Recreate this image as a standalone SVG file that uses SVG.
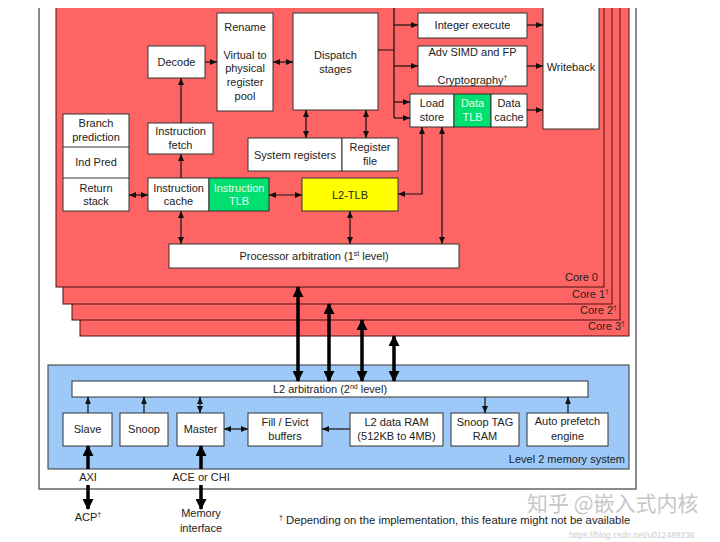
<svg xmlns="http://www.w3.org/2000/svg" width="720" height="542" viewBox="0 0 720 542">
<defs>
<style>
text{font-family:"Liberation Sans",Arial,sans-serif;font-size:11px;fill:#222;text-anchor:middle}
.core{fill:#ff6464;stroke:#4a1010;stroke-width:1}
.box{fill:#fff;stroke:#333;stroke-width:1}
.grn{fill:#00e070;stroke:#333;stroke-width:1}
.ylw{fill:#ffff00;stroke:#333;stroke-width:1}
.gtx{fill:#e8fff0}
.c{fill:none;stroke:#111;stroke-width:1.2}
.a{marker-end:url(#ah)}
.b{marker-start:url(#ah);marker-end:url(#ah)}
.t{fill:none;stroke:#000;stroke-width:3.5}
.ta{marker-end:url(#th)}
.tb{marker-start:url(#th);marker-end:url(#th)}
.r{text-anchor:end}
.sup{font-size:7px}
</style>
<marker id="ah" markerUnits="userSpaceOnUse" markerWidth="7" markerHeight="6" refX="7" refY="3" orient="auto-start-reverse"><path d="M0,0 L7,3 L0,6 z" fill="#111"/></marker>
<marker id="th" markerUnits="userSpaceOnUse" markerWidth="11" markerHeight="11" refX="10" refY="5.5" orient="auto-start-reverse"><path d="M0,0 L11,5.5 L0,11 z" fill="#000"/></marker>
</defs>
<rect width="720" height="542" fill="#fff"/>
<rect id="outer" x="39" y="-10" width="597" height="499" fill="none" stroke="#666" stroke-width="1.5"/>
<g id="core3"><rect class="core" x="80" y="-10" width="549" height="346"/><text class="r" x="625" y="330">Core 3<tspan class="sup" dy="-4">†</tspan></text></g>
<g id="core2"><rect class="core" x="72" y="-10" width="548" height="330"/><text class="r" x="617" y="314">Core 2<tspan class="sup" dy="-4">†</tspan></text></g>
<g id="core1"><rect class="core" x="63" y="-10" width="549" height="314"/><text class="r" x="609" y="298">Core 1<tspan class="sup" dy="-4">†</tspan></text></g>
<g id="core0"><rect class="core" x="56" y="-10" width="548" height="297"/><text class="r" x="598" y="281">Core 0</text></g>

<g id="writeback"><rect class="box" x="543" y="-10" width="56" height="139"/><text x="571" y="71">Writeback</text></g>
<g id="dispatch"><rect class="box" x="293" y="13" width="85" height="97"/><text x="335.5" y="59">Dispatch</text><text x="335.5" y="73">stages</text></g>
<g id="rename"><rect class="box" x="217" y="13" width="56" height="98"/><text x="245" y="31">Rename</text><text x="245" y="59">Virtual to</text><text x="245" y="72">physical</text><text x="245" y="86">register</text><text x="245" y="100">pool</text></g>
<g id="decode"><rect class="box" x="148" y="46" width="57" height="32"/><text x="176.5" y="66">Decode</text></g>
<g id="fetch"><rect class="box" x="148" y="123" width="65" height="31"/><text x="180.5" y="135">Instruction</text><text x="180.5" y="149">fetch</text></g>
<g id="branch"><rect class="box" x="63" y="114" width="66" height="97"/><line x1="63" y1="147" x2="129" y2="147" stroke="#333"/><line x1="63" y1="178" x2="129" y2="178" stroke="#333"/><text x="96" y="127">Branch</text><text x="96" y="141">prediction</text><text x="96" y="166">Ind Pred</text><text x="96" y="192">Return</text><text x="96" y="205">stack</text></g>
<g id="icache"><rect class="box" x="148" y="178" width="61" height="33"/><text x="178.5" y="192">Instruction</text><text x="178.5" y="205">cache</text></g>
<g id="itlb"><rect class="grn" x="209" y="178" width="60" height="33"/><text class="gtx" x="239" y="192">Instruction</text><text class="gtx" x="239" y="205">TLB</text></g>
<g id="l2tlb"><rect class="ylw" x="302" y="178" width="96" height="33"/><text x="350" y="199">L2-TLB</text></g>
<g id="sysreg"><rect class="box" x="248" y="138" width="94" height="33"/><text x="295" y="159">System registers</text></g>
<g id="regfile"><rect class="box" x="342" y="138" width="56" height="33"/><text x="370" y="151">Register</text><text x="370" y="165">file</text></g>
<g id="procarb"><rect class="box" x="169" y="244" width="290" height="24"/><text x="314" y="260">Processor arbitration (1<tspan class="sup" dy="-4">st</tspan><tspan dy="4"> level)</tspan></text></g>
<g id="intexec"><rect class="box" x="418" y="13" width="109" height="25"/><text x="472.5" y="29">Integer execute</text></g>
<g id="simd"><rect class="box" x="418" y="46" width="109" height="40"/><text x="472.5" y="56">Adv SIMD and FP</text><text x="472.5" y="84">Cryptography<tspan class="sup" dy="-4">†</tspan></text></g>
<g id="loadstore"><rect class="box" x="410" y="94" width="44" height="33"/><text x="432" y="107">Load</text><text x="432" y="121">store</text></g>
<g id="dtlb"><rect class="grn" x="454" y="94" width="37" height="33"/><text class="gtx" x="472.5" y="107">Data</text><text class="gtx" x="472.5" y="121">TLB</text></g>
<g id="dcache"><rect class="box" x="491" y="94" width="36" height="33"/><text x="509" y="107">Data</text><text x="509" y="121">cache</text></g>

<g id="l2sys"><rect x="48" y="365" width="581" height="104" fill="#9cc9f7" stroke="#333"/><text class="r" x="625" y="463">Level 2 memory system</text></g>
<g id="l2arb"><rect class="box" x="72" y="381" width="516" height="16"/><text x="330" y="393">L2 arbitration (2<tspan class="sup" dy="-4">nd</tspan><tspan dy="4"> level)</tspan></text></g>
<g id="slave"><rect class="box" x="63" y="413" width="49" height="33"/><text x="87.5" y="433">Slave</text></g>
<g id="snoop"><rect class="box" x="120" y="413" width="48" height="33"/><text x="144" y="433">Snoop</text></g>
<g id="master"><rect class="box" x="177" y="413" width="47" height="33"/><text x="200.5" y="433">Master</text></g>
<g id="fill"><rect class="box" x="248" y="413" width="74" height="33"/><text x="285" y="426">Fill / Evict</text><text x="285" y="440">buffers</text></g>
<g id="l2ram"><rect class="box" x="350" y="413" width="93" height="33"/><text x="396.5" y="426">L2 data RAM</text><text x="396.5" y="440">(512KB to 4MB)</text></g>
<g id="snooptag"><rect class="box" x="451" y="413" width="68" height="33"/><text x="485" y="426">Snoop TAG</text><text x="485" y="440">RAM</text></g>
<g id="prefetch"><rect class="box" x="527" y="413" width="81" height="33"/><text x="567.5" y="425">Auto prefetch</text><text x="567.5" y="440">engine</text></g>

<g id="connectors">
<path class="c a" d="M205,62 H217"/>
<path class="c b" d="M273,62 H293"/>
<path class="c a" d="M181,123 V78"/>
<path class="c a" d="M181,178 V154"/>
<path class="c b" d="M129,195 H148"/>
<path class="c b" d="M269,195 H302"/>
<path class="c b" d="M181,211 V244"/>
<path class="c b" d="M350,211 V244"/>
<path class="c b" d="M306,110 V138"/>
<path class="c b" d="M366,110 V138"/>
<path class="c b" d="M422,127 V194 H398"/>
<path class="c b" d="M442,127 V244"/>
<path class="c" d="M378,50 H394 M394,-10 V118"/>
<path class="c a" d="M394,25 H418"/>
<path class="c a" d="M394,66 H418"/>
<path class="c a" d="M394,102 H410"/>
<path class="c a" d="M394,118 H410"/>
<path class="c a" d="M527,25 H543"/>
<path class="c a" d="M527,66 H543"/>
<path class="c a" d="M527,110 H543"/>
<path class="t tb" d="M298,287 V381"/>
<path class="t tb" d="M329,304 V381"/>
<path class="t tb" d="M362,320 V381"/>
<path class="t tb" d="M394,336 V381"/>
<path class="c a" d="M88,413 V397"/>
<path class="c a" d="M144,413 V397"/>
<path class="c b" d="M200,397 V413"/>
<path class="c b" d="M224,429 H248"/>
<path class="c a" d="M350,429 H322"/>
<path class="c a" d="M485,397 V413"/>
<path class="c a" d="M568,413 V397"/>
<path class="t ta" d="M88,469 V446"/>
<path class="t ta" d="M88,485 V509"/>
<path class="t ta" d="M201,469 V446"/>
<path class="t ta" d="M201,485 V509"/>
</g>
<rect x="0" y="0" width="720" height="8" fill="#fff"/>
<text x="88" y="481">AXI</text>
<text x="88" y="521">ACP<tspan class="sup" dy="-4">†</tspan></text>
<text x="201" y="481">ACE or CHI</text>
<text x="201" y="517">Memory</text>
<text x="201" y="532">interface</text>
<text x="279" y="524" style="text-anchor:start;font-size:11.3px"><tspan class="sup" dy="-4">†</tspan><tspan dy="4"> Depending on the implementation, this feature might not be available</tspan></text>
<text x="527" y="511" style="text-anchor:start;font-family:'Noto Sans CJK SC',sans-serif;font-size:21px;fill:#999;opacity:0.55">知乎 @嵌入式内核</text>
<text x="569" y="538" style="text-anchor:start;font-size:8.5px;fill:#ccc">https://blog.csdn.net/u012489236</text>
</svg>
